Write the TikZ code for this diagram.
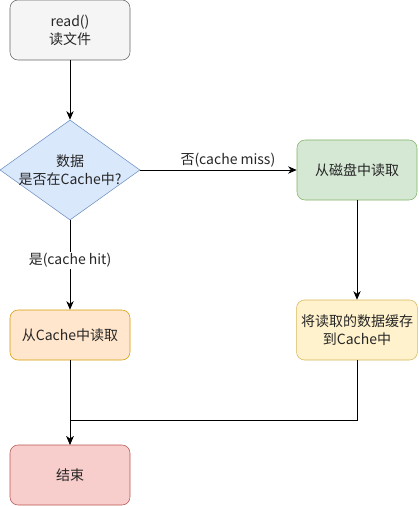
\documentclass[tikz,border=0pt]{standalone}
\usepackage{fontspec}
\setmainfont{Noto Sans CJK SC}
\usetikzlibrary{shapes.geometric,arrows.meta}

\definecolor{greyfill}{HTML}{F5F5F5}
\definecolor{greyline}{HTML}{666666}
\definecolor{bluefill}{HTML}{DAE8FC}
\definecolor{blueline}{HTML}{6C8EBF}
\definecolor{greenfill}{HTML}{D5E8D4}
\definecolor{greenline}{HTML}{82B366}
\definecolor{yellowfill}{HTML}{FFF2CC}
\definecolor{yellowline}{HTML}{D6B656}
\definecolor{orangefill}{HTML}{FFE6CC}
\definecolor{orangeline}{HTML}{D79B00}
\definecolor{redfill}{HTML}{F8CECC}
\definecolor{redline}{HTML}{B85450}

\tikzset{
  txt/.style={font=\fontsize{10.5}{13.5}\selectfont, text=black!85},
  box/.style={rectangle, rounded corners=6pt, draw, minimum width=90pt,
    minimum height=45pt, align=center, txt},
  arrow/.style={-{Stealth[length=6.5pt,width=5.5pt]}, line width=0.6pt}
}

\begin{document}
\begin{tikzpicture}[x=0.75pt,y=-0.75pt]

		\useasboundingbox (0,0) rectangle (418,506);

		\node (read) at (70,30) [box, fill=greyfill, draw=greyline] {read()\\读文件};
		\node (check) at (70,170) [diamond, aspect=1.4, inner sep=-6pt, minimum width=105pt,
			minimum height=75pt, draw=blueline, fill=bluefill, align=center, txt] {数据\\是否在Cache中?};
		\node (disk) at (357,170) [box, fill=greenfill, draw=greenline] {从磁盘中读取};
		\node (store) at (357,330) [box, fill=yellowfill, draw=yellowline] {将读取的数据缓存\\到Cache中};
		\node (hit) at (70,335) [box, minimum height=37.5pt, fill=orangefill, draw=orangeline] {从Cache中读取};
		\node (finish) at (70,475) [box, fill=redfill, draw=redline] {结束};

		\coordinate (merge) at (70,420);

		\draw[arrow] (check) -- node[pos=0.56, above, inner sep=1.5pt, txt] {否(cache miss)} (disk);
		\draw[arrow] (read) -- (check);
		\draw[arrow] (check) -- node[pos=0.45, fill=white, inner sep=1pt, txt] {是(cache hit)} (hit);
		\draw[arrow] (disk) -- (store);
		\draw[arrow] (hit) -- (finish);
		\draw[arrow] (store.south) |- (merge) -- (finish.north);

\end{tikzpicture}
\end{document}
